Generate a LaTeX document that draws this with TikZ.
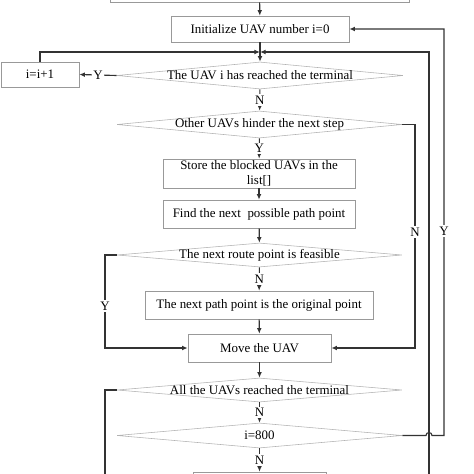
\documentclass[tikz,border=0pt]{standalone}
\usepackage{fontspec}
\setmainfont{Liberation Serif}
\usetikzlibrary{shapes.geometric, arrows.meta}

\begin{document}
\begin{tikzpicture}[%
        x = 0.025cm,
        y = -0.025cm,
        font = \fontsize{9.2}{10.6}\selectfont,
        my box/.style = {%
          rectangle,
          draw = black!40,
          inner sep = 0pt,
          align = center,
        },
        my decision/.style = {%
          diamond,
          draw = black!30,
          inner sep = 0pt,
        },
        my line/.style = {%
          draw = black!80,
          line width = 0.8pt,
        },
        my arrow/.style = {my line, -{Latex[length=4pt, width=3.4pt]}},
        my label/.style = {fill = white, inner sep = 1pt},
      ]
      \useasboundingbox (0,0) rectangle (474,474);
      \clip (0,0) rectangle (474,474);
      \node[my box, minimum width=7.475cm, minimum height=0.6cm] (start) at (259.5,-10) {};
      \node[my box, minimum width=4.45cm, minimum height=0.65cm] (init) at (260,29) {Initialize UAV number i=0};
      \coordinate (join) at (260,52);
      \node[my decision, minimum width=7.15cm, minimum height=0.675cm, label=center:{The UAV i has reached the terminal}] (reached) at (260,75.5) {};
      \node[my box, minimum width=1.95cm, minimum height=0.625cm] (next) at (40,74.5) {i=i+1};
      \node[my decision, minimum width=7.125cm, minimum height=0.675cm, label=center:{Other UAVs hinder the next step}] (hinder) at (259.5,124.5) {};
      \node[my box, minimum width=4.8cm, minimum height=0.725cm] (store) at (259,173.5) {Store the blocked UAVs in the\\list[]};
      \node[my box, minimum width=4.8cm, minimum height=0.7cm] (find) at (259,214) {Find the next\ \ possible path point};
      \node[my decision, minimum width=7.125cm, minimum height=0.6cm, label=center:{The next route point is feasible}] (feasible) at (259.5,255) {};
      \node[my box, minimum width=5.7cm, minimum height=0.7cm] (origin) at (259,305) {The next path point is the original point};
      \node[my box, minimum width=3.575cm, minimum height=0.7cm] (move) at (259.5,348) {Move the UAV};
      \node[my decision, minimum width=7.125cm, minimum height=0.6cm, label=center:{All the UAVs reached the terminal}] (all) at (259.5,390) {};
      \node[my decision, minimum width=7.125cm, minimum height=0.625cm, label=center:{i=800}] (limit) at (259.5,435.5) {};
      \node[my box, minimum width=3.325cm, minimum height=0.7cm] (last) at (259.5,486) {};
      \coordinate (lane n) at (415,232);
      \coordinate (lane y) at (105,306);
      \coordinate (exit) at (105,500);
      \coordinate (loop) at (429,500);
      \coordinate (hop) at (426,435.5);
      \coordinate (lane back) at (444,231);
      \draw[my arrow] (start) -- (init);
      \draw[my arrow] (init) -- (reached);
      \draw[my arrow] (reached.west) -- node[my label] {Y} (next.east);
      \draw[my arrow] (next.north) |- (join);
      \draw[my arrow] (loop) |- (join);
      \draw[my arrow] (reached) -- node[my label] {N} (hinder);
      \draw[my arrow] (hinder) -- node[my label] {Y} (store);
      \draw[my arrow] (hinder.east) -| (lane n) node[my label] {N} |- (move.east);
      \draw[my arrow] (store) -- (find);
      \draw[my arrow] (find) -- (feasible);
      \draw[my arrow] (feasible) -- node[my label] {N} (origin);
      \draw[my arrow] (feasible.west) -| (lane y) node[my label] {Y} |- (move.west);
      \draw[my arrow] (origin) -- (move);
      \draw[my arrow] (move) -- (all);
      \draw[my line] (all.west) -| (exit);
      \draw[my arrow] (all) -- node[my label] {N} (limit);
      \draw[my arrow] (limit) -- node[my label] {N} (last);
      \draw[my arrow] (limit.east) -- (hop) arc[start angle=180, end angle=0, radius=0.075cm] -| (lane back) node[my label] {Y} |- (init.east);
    \end{tikzpicture}
\end{document}
